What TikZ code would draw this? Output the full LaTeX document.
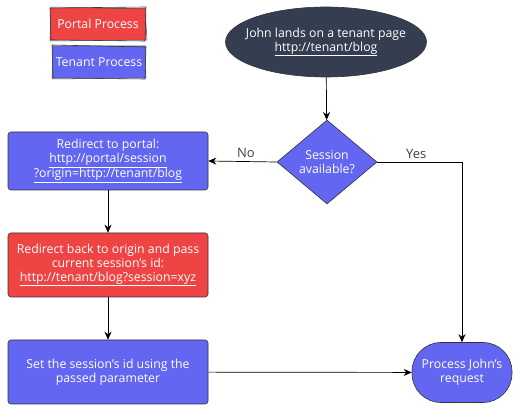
\documentclass[tikz,border=0pt]{standalone}
\usepackage{fontspec}
\setmainfont{Open Sans}
\usetikzlibrary{shapes.geometric,arrows.meta}
\definecolor{pred}{HTML}{EF4444}
\definecolor{tblue}{HTML}{6366F1}
\definecolor{darkfill}{HTML}{343E50}
\definecolor{edge}{HTML}{333333}
\begin{document}
\begin{tikzpicture}[x=1pt,y=-1pt,
  txt/.style={text=white,align=center,font=\fontsize{12.3}{14}\selectfont},
  box/.style={rectangle,rounded corners=3pt,draw=edge,line width=0.6pt,minimum width=200pt,inner sep=0pt,txt},
  arr/.style={-{Stealth[length=8pt,width=7pt]},line width=0.7pt,black},
  lbl/.style={font=\fontsize{13}{15}\selectfont,text=black!75}]
\useasboundingbox[fill=white] (0,0) rectangle (520,411);
% legend
\fill[pred] (50,8) rectangle (146,40);
\draw[line width=0.6pt,black!80] (50,8) -- (146,7) -- (145,41) -- (51,40) -- cycle;
\draw[line width=0.5pt,black!70] (51,7) -- (145,9) -- (147,40) -- (50,41) -- cycle;
\node[txt] (lp) at (98,24) {Portal Process};
\fill[tblue] (52,46) rectangle (146,78);
\draw[line width=0.6pt,black!80] (52,45) -- (146,47) -- (145,79) -- (53,78) -- cycle;
\draw[line width=0.5pt,black!70] (53,46) -- (145,46) -- (146,78) -- (52,79) -- cycle;
\node[txt] (lt) at (99,62) {Tenant Process};
% nodes
\node[ellipse,fill=darkfill,draw=edge,line width=0.6pt,minimum width=201pt,minimum height=70pt,inner sep=0pt] (start) at (326,42) {};
\node[txt] (startt) at (start) {John lands on a tenant page\\\underline{http://tenant/blog}};
\node[diamond,fill=tblue,draw=edge,line width=0.6pt,minimum width=100pt,minimum height=84pt,inner sep=0pt] (dec) at (327,162) {};
\node[txt] (dect) at (dec) {Session\\available?};
\node[box,fill=tblue,minimum height=58pt] (redir) at (108,161) {Redirect to portal:\\\underline{http://portal/session}\\\underline{?origin=http://tenant/blog}};
\node[box,fill=pred,minimum height=64pt] (back) at (108,265) {Redirect back to origin and pass\\current session's id:\\\underline{http://tenant/blog?session=xyz}};
\node[box,fill=tblue,minimum height=64pt] (set) at (108,372) {Set the session's id using the\\passed parameter};
\node[rectangle,rounded corners=29pt,fill=tblue,draw=edge,line width=0.6pt,minimum width=100pt,minimum height=60pt,inner sep=0pt,txt] (proc) at (462,372.5) {Process John's\\request};
% connectors
\draw[arr] (start) -- (dec);
\draw[arr] (dec.west) -- node[lbl,above=0pt,pos=0.45] {No} (redir.east);
\draw[arr] (dec.east) -| node[lbl,above=0pt,pos=0.23] {Yes} (proc.north);
\draw[arr] (redir) -- (back);
\draw[arr] (back) -- (set);
\draw[arr] (set) -- (proc);
\end{tikzpicture}
\end{document}
